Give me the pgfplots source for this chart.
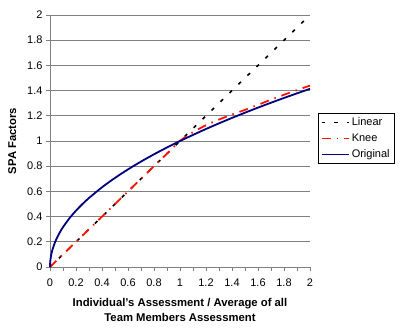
\documentclass[border=0pt]{standalone}
\usepackage{fontspec}
\setmainfont{Liberation Sans}
\usepackage{pgfplots}
\pgfplotsset{compat=1.18}
\definecolor{navyline}{RGB}{0,0,128}
\definecolor{kneered}{RGB}{255,20,0}
\definecolor{gridgray}{RGB}{128,128,128}
\begin{document}
\begin{tikzpicture}[x=1pt,y=1pt]
\useasboundingbox (0,0) rectangle (400,330);
\begin{axis}[
  at={(50pt,63pt)}, anchor=south west,
  scale only axis, width=260pt, height=252pt,
  xmin=0, xmax=2, ymin=0, ymax=2,
  axis x line=bottom, axis y line=left,
  axis line style={gridgray, line width=0.8pt, -},
  xtick={0,0.2,0.4,0.6,0.8,1,1.2,1.4,1.6,1.8,2},
  xticklabels={0,0.2,0.4,0.6,0.8,1,1.2,1.4,1.6,1.8,2},
  minor xtick={0.1,0.3,0.5,0.7,0.9,1.1,1.3,1.5,1.7,1.9},
  ytick={0,0.2,...,2},
  yticklabels={0,0.2,0.4,0.6,0.8,1,1.2,1.4,1.6,1.8,2},
  tick align=outside,
  major tick length=4pt, minor tick length=4pt,
  tick style={gridgray, line width=0.7pt},
  ymajorgrids, grid style={gridgray, line width=0.8pt},
  tick label style={font=\fontsize{11}{13}\selectfont},
  xticklabel style={yshift=-4pt},
  /pgf/number format/assume math mode=true,
  xlabel={\textbf{Individual's Assessment / Average of all}\\\textbf{Team Members Assessment}},
  xlabel style={align=center, font=\fontsize{11.3}{15.6}\selectfont, yshift=-5pt},
  ylabel={\textbf{SPA Factors}},
  ylabel style={font=\fontsize{11.3}{13}\selectfont, yshift=4pt},
  legend style={at={(1.031,0.61)}, anchor=north west, draw=black, line width=0.6pt,
    font=\fontsize{11}{13}\selectfont, inner xsep=2.5pt, inner ysep=2pt, row sep=2.8pt,
    legend cell align=left},
  legend image post style={line width=1.6pt, xscale=1.6},
  clip=false,
]
\addplot[black, line width=1.6pt, dash pattern=on 3.5pt off 9pt] coordinates {(0,0) (2,2)};
\addlegendentry{Linear}
\addplot[kneered, line width=1.8pt, dash pattern=on 9pt off 6pt on 1.5pt off 6pt, smooth, tension=0.5] coordinates {
(0,0) (0.5,0.5) (0.9,0.9) (1.0,1.0) (1.1,1.07) (1.2,1.125) (1.3,1.17) (1.4,1.21)
(1.5,1.247) (1.6,1.287) (1.7,1.328) (1.8,1.367) (1.9,1.404) (2.0,1.44)};
\addlegendentry{Knee}
\addplot[navyline, line width=1.8pt, smooth] coordinates {
(0,0) (0.001,0.0316) (0.005,0.0707) (0.01,0.1) (0.02,0.1414) (0.04,0.2) (0.06,0.2449)
(0.08,0.2828) (0.1,0.3162) (0.15,0.3873) (0.2,0.4472) (0.25,0.5) (0.3,0.5477)
(0.4,0.6325) (0.5,0.7071) (0.6,0.7746) (0.7,0.8367) (0.8,0.8944) (0.9,0.9487)
(1.0,1.0) (1.2,1.0954) (1.4,1.1832) (1.6,1.2649) (1.8,1.3416) (2.0,1.4142)};
\addlegendentry{Original}
\end{axis}
\end{tikzpicture}
\end{document}
